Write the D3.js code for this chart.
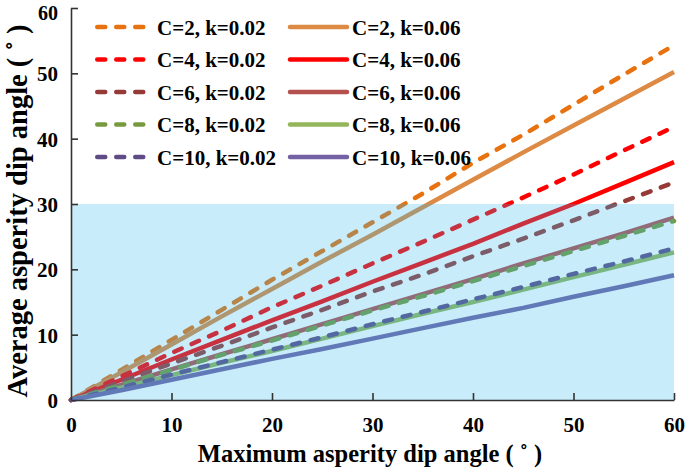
<!DOCTYPE html>
<html>
<head>
<meta charset="utf-8">
<script src="https://d3js.org/d3.v7.min.js"></script>
<style>
  body { margin: 0; background: #fff; }
  text { font-family: "Liberation Serif", "Times New Roman", serif; font-weight: bold; fill: #000; }
</style>
</head>
<body>
<div id="chart"></div>
<script>
// values
const xValues = [0, 5, 10, 15, 20, 25, 30, 35, 40, 45, 50, 55, 60];

const c2k02 = [0, 4.6, 9.2, 13.8, 18.4, 22.8, 27.2, 31.6, 36.3, 40.6, 45.2, 49.8, 54.3];
const c2k06 = [0, 4.2, 8.5, 12.8, 17.0, 21.2, 25.3, 29.5, 33.7, 37.9, 42.0, 46.1, 50.2];
const c4k02 = [0, 3.6, 7.2, 10.6, 14.2, 17.5, 20.9, 24.2, 27.6, 31.0, 34.5, 38.2, 41.8];
const c4k06 = [0, 3.1, 6.2, 9.2, 12.2, 15.1, 18.1, 21.0, 23.9, 27.0, 30.0, 33.2, 36.4];
const c6k02 = [0, 2.8, 5.6, 8.3, 11.1, 13.8, 16.6, 19.2, 22.0, 24.7, 27.5, 30.4, 33.3];
const c6k06 = [0, 2.3, 4.7, 7.0, 9.3, 11.6, 13.9, 16.2, 18.5, 20.9, 23.2, 25.5, 27.9];
const c8k02 = [0, 2.3, 4.6, 6.9, 9.1, 11.4, 13.7, 15.9, 18.2, 20.5, 22.8, 25.1, 27.4];
const c8k06 = [0, 1.9, 3.8, 5.7, 7.5, 9.4, 11.3, 13.2, 15.0, 16.9, 18.8, 20.7, 22.6];
const c10k02 = [0, 1.9, 3.9, 5.8, 7.7, 9.6, 11.6, 13.5, 15.4, 17.3, 19.3, 21.2, 23.2];
const c10k06 = [0, 1.5, 3.1, 4.7, 6.3, 7.8, 9.4, 11.0, 12.6, 14.1, 15.8, 17.4, 19.1];

const seriesLabels = [
  "C=2, k=0.02", "C=2, k=0.06",
  "C=4, k=0.02", "C=4, k=0.06",
  "C=6, k=0.02", "C=6, k=0.06",
  "C=8, k=0.02", "C=8, k=0.06",
  "C=10, k=0.02", "C=10, k=0.06"
];
const seriesValues = [c2k02, c2k06, c4k02, c4k06, c6k02, c6k06, c8k02, c8k06, c10k02, c10k06];

const xTicks = [0, 10, 20, 30, 40, 50, 60];
const yTicks = [0, 10, 20, 30, 40, 50, 60];
const shadeTop = 30;

// styles
const seriesColors = [
  "#e8720f", "#dc8a44",
  "#ff0000", "#ff0000",
  "#963a37", "#b4504e",
  "#779a3e", "#93b65a",
  "#5f4b86", "#7462a4"
];
const dashed = (i) => i % 2 === 0;

const width = 685;
const height = 470;

const svg = d3
  .select("#chart")
  .append("svg")
  .attr("width", width)
  .attr("height", height);

const x = d3.scaleLinear().domain([0, 60]).range([71, 674]);
const y = d3.scaleLinear().domain([0, 60]).range([400, 8]);

const line = d3
  .line()
  .x((d, i) => x(xValues[i]))
  .y((d) => y(d));

// series
svg
  .append("g")
  .attr("class", "series")
  .selectAll("path")
  .data(seriesValues)
  .enter()
  .append("path")
  .attr("d", (d) => line(d))
  .attr("fill", "none")
  .attr("stroke", (d, i) => seriesColors[i])
  .attr("stroke-width", 4.5)
  .attr("stroke-linecap", (d, i) => (dashed(i) ? "round" : "butt"))
  .attr("stroke-dasharray", (d, i) => (dashed(i) ? "8,11" : null));

// light blue band, lies over the lines
svg
  .append("rect")
  .attr("x", x(0))
  .attr("y", y(shadeTop))
  .attr("width", x(60) - x(0))
  .attr("height", y(0) - y(shadeTop))
  .attr("fill", "rgb(51,185,236)")
  .attr("opacity", 0.27);

// axes
const xAxis = svg
  .append("g")
  .attr("transform", "translate(0," + y(0) + ")")
  .call(d3.axisBottom(x).tickValues(xTicks).tickSize(-7).tickSizeOuter(0).tickFormat(d3.format("d")));

const yAxis = svg
  .append("g")
  .attr("transform", "translate(" + x(0) + ",0)")
  .call(d3.axisLeft(y).tickValues(yTicks).tickSize(-7).tickSizeOuter(0).tickPadding(13).tickFormat(d3.format("d")));

[xAxis, yAxis].forEach((g) => {
  g.select(".domain").attr("stroke", "#333").attr("stroke-width", 1.6);
  g.selectAll(".tick line").attr("stroke", "#333").attr("stroke-width", 1.6);
  g.selectAll(".tick text")
    .attr("fill", "#000")
    .style("font-family", "'Liberation Serif', serif")
    .style("font-weight", "bold")
    .style("font-size", "21px");
});
xAxis.selectAll(".tick line").filter((d) => d === 0).remove();
yAxis.selectAll(".tick line").filter((d) => d === 0).remove();
xAxis.selectAll(".tick text").attr("y", 32).attr("dy", null);
yAxis.selectAll(".tick text").attr("dy", "0.35em");
// top label sits a little lower so it stays inside the page
yAxis
  .selectAll(".tick text")
  .filter((d) => d === 60)
  .attr("dy", null)
  .attr("y", 11)
  .style("font-size", "20px");

// axis titles
svg
  .append("text")
  .attr("x", 370)
  .attr("y", 462)
  .attr("text-anchor", "middle")
  .style("font-size", "24.5px")
  .text("Maximum asperity dip angle ( ˚ )");

svg
  .append("text")
  .attr("transform", "translate(27,211) rotate(-90)")
  .attr("text-anchor", "middle")
  .style("font-size", "28.5px")
  .text("Average asperity dip angle ( ˚ )");

// legend, two columns
const legend = svg
  .append("g")
  .attr("class", "legend")
  .selectAll("g")
  .data(seriesLabels)
  .enter()
  .append("g")
  .attr("transform", (d, i) => {
    const col = i % 2;
    const row = Math.floor(i / 2);
    return "translate(" + (col === 0 ? 95 : 290) + "," + (27 + row * 32.5) + ")";
  });

legend
  .append("line")
  .attr("x1", (d, i) => (dashed(i) ? 2.25 : 0))
  .attr("x2", (d, i) => (dashed(i) ? 50 : 57))
  .attr("y1", 0)
  .attr("y2", 0)
  .attr("stroke", (d, i) => seriesColors[i])
  .attr("stroke-width", 4.5)
  .attr("stroke-linecap", "round")
  .attr("stroke-dasharray", (d, i) => (dashed(i) ? "8,11" : null));

legend
  .append("text")
  .attr("x", 62)
  .attr("y", 7.5)
  .style("font-size", "21px")
  .text((d) => d);
</script>
</body>
</html>
